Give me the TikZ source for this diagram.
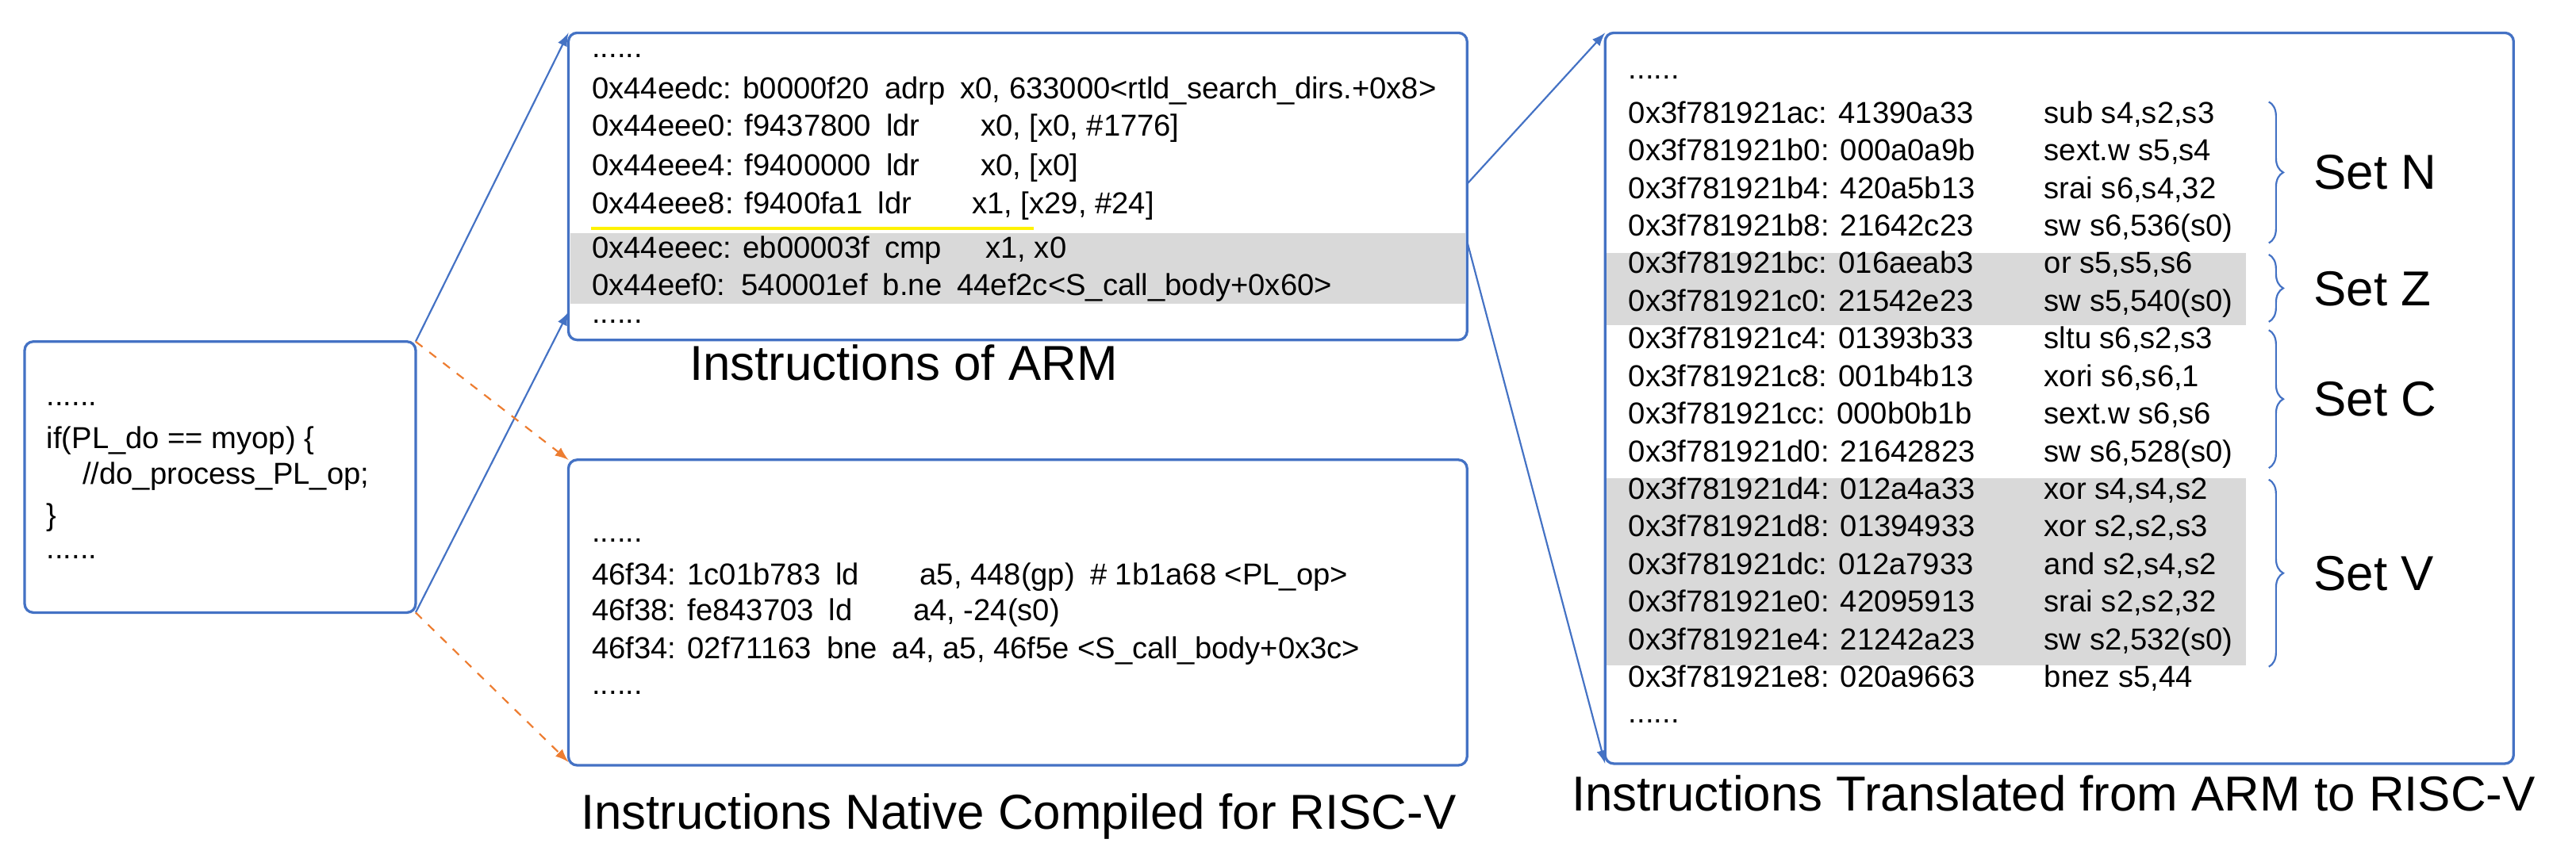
\documentclass[tikz,border=0pt]{standalone}
\usepackage{fontspec}
\setmainfont{Liberation Sans}
\usetikzlibrary{decorations.pathreplacing}
\definecolor{boxblue}{HTML}{4472C4}
\definecolor{arrorange}{HTML}{ED7D31}
\definecolor{hl}{HTML}{D9D9D9}
\begin{document}
\begin{tikzpicture}[x=0.02cm,y=-0.02cm,
    box/.style={draw=boxblue,line width=0.9pt,rounded corners=3pt},
    code/.style={anchor=base west,inner sep=0pt,font=\fontsize{10.5}{12}\selectfont},
    title/.style={inner sep=0pt,font=\fontsize{17}{20}\selectfont},
    blue arrow/.style={draw=boxblue,line width=0.6pt,-latex},
    orange arrow/.style={draw=arrorange,line width=0.6pt,dashed,-latex},
    setbrace/.style={draw=boxblue,line width=0.6pt,decorate,decoration={brace,amplitude=5pt}},
    ]
    \useasboundingbox (0,0) rectangle (1568,527);

    % boxes
    \draw[box] (15,208) rectangle (253,373);
    \coordinate (srcne) at (253,208);
    \coordinate (srcse) at (253,373);
    \fill[hl] (347,142) rectangle (892,185);
    \draw[yellow,line width=1pt] (360,139) -- (629,139);
    \draw[box] (346,20) rectangle (893,207);
    \draw[box] (346,280) rectangle (893,466);
    \fill[hl] (978,154) rectangle (1367,198);
    \fill[hl] (978,291) rectangle (1367,405);
    \draw[box] (977,20) rectangle (1530,465);

    % source code
    \node[code] (s0) at (28,247) {......};
    \node[code] (s1) at (28,273) {if(PL\_do == myop) \{};
    \node[code] (s2) at (50,295) {//do\_process\_PL\_op;};
    \node[code] (s3) at (28,320) {\}};
    \node[code] (s4) at (28,340) {......};

    % ARM
    \node[code] (a0) at (360,35) {......};
    \foreach \y/\t/\o in {
        60/{0x44eedc: b0000f20}/{adrp\enspace x0, 633000<rtld\_search\_dirs.+0x8>},
        83/{0x44eee0: f9437800}/{ldr\qquad x0, [x0, \#1776]},
        107/{0x44eee4: f9400000}/{ldr\qquad x0, [x0]},
        130/{0x44eee8: f9400fa1}/{ldr\qquad x1, [x29, \#24]},
        157/{0x44eeec: eb00003f}/{cmp\quad\, x1, x0},
        180/{0x44eef0:\, 540001ef}/{b.ne\enspace 44ef2c<S\_call\_body+0x60>}}
        \node[code] at (360,\y) {\t\enspace \o};
    \node[code] (a9) at (360,197) {......};
    \node[title] (larm) at (550,221) {Instructions of ARM};

    % native RISC-V
    \node[code] (n0) at (360,330) {......};
    \node[code] (n1) at (360,356) {46f34: 1c01b783\enspace ld\qquad a5, 448(gp)\enspace \# 1b1a68 <PL\_op>};
    \node[code] (n2) at (360,378) {46f38: fe843703\enspace ld\qquad a4, -24(s0)};
    \node[code] (n3) at (360,401) {46f34: 02f71163\enspace bne\enspace a4, a5, 46f5e <S\_call\_body+0x3c>};
    \node[code] (n4) at (360,423) {......};
    \node[title] (lnat) at (620,497) {Instructions Native Compiled for RISC-V};

    % translated
    \node[code] (t0) at (991,48) {......};
    \foreach \i/\a/\o in {
        0/{0x3f781921ac: 41390a33}/{sub s4,s2,s3},
        1/{0x3f781921b0: 000a0a9b}/{sext.w s5,s4},
        2/{0x3f781921b4: 420a5b13}/{srai s6,s4,32},
        3/{0x3f781921b8: 21642c23}/{sw s6,536(s0)},
        4/{0x3f781921bc: 016aeab3}/{or s5,s5,s6},
        5/{0x3f781921c0: 21542e23}/{sw s5,540(s0)},
        6/{0x3f781921c4: 01393b33}/{sltu s6,s2,s3},
        7/{0x3f781921c8: 001b4b13}/{xori s6,s6,1},
        8/{0x3f781921cc: 000b0b1b}/{sext.w s6,s6},
        9/{0x3f781921d0: 21642823}/{sw s6,528(s0)},
        10/{0x3f781921d4: 012a4a33}/{xor s4,s4,s2},
        11/{0x3f781921d8: 01394933}/{xor s2,s2,s3},
        12/{0x3f781921dc: 012a7933}/{and s2,s4,s2},
        13/{0x3f781921e0: 42095913}/{srai s2,s2,32},
        14/{0x3f781921e4: 21242a23}/{sw s2,532(s0)},
        15/{0x3f781921e8: 020a9663}/{bnez s5,44}} {
        \node[code] at (991,75+22.9*\i) {\a};
        \node[code] at (1244,75+22.9*\i) {\o};
    }
    \node[code] (t9) at (991,440) {......};
    \node[title] (ltr) at (1250,483) {Instructions Translated from ARM to RISC-V};

    % flag sets
    \draw[setbrace] (1381,62) -- (1381,148);
    \draw[setbrace] (1381,155) -- (1381,196);
    \draw[setbrace] (1381,201) -- (1381,285);
    \draw[setbrace] (1381,292) -- (1381,406);
    \node[title,anchor=west] (sn) at (1408,105) {Set N};
    \node[title,anchor=west] (sz) at (1408,176) {Set Z};
    \node[title,anchor=west] (sc) at (1408,243) {Set C};
    \node[title,anchor=west] (sv) at (1408,349) {Set V};

    % connectors
    \coordinate (armnw) at (346,20);
    \coordinate (armsw) at (346,190);
    \coordinate (natnw) at (346,280);
    \coordinate (natsw) at (346,464);
    \coordinate (arme1) at (893,112);
    \coordinate (arme2) at (893,147);
    \coordinate (trnw) at (977,20);
    \coordinate (trsw) at (977,465);
    \draw[blue arrow] (srcne) -- (armnw);
    \draw[blue arrow] (srcse) -- (armsw);
    \draw[orange arrow] (srcne) -- (natnw);
    \draw[orange arrow] (srcse) -- (natsw);
    \draw[blue arrow] (arme1) -- (trnw);
    \draw[blue arrow] (arme2) -- (trsw);
\end{tikzpicture}
\end{document}
